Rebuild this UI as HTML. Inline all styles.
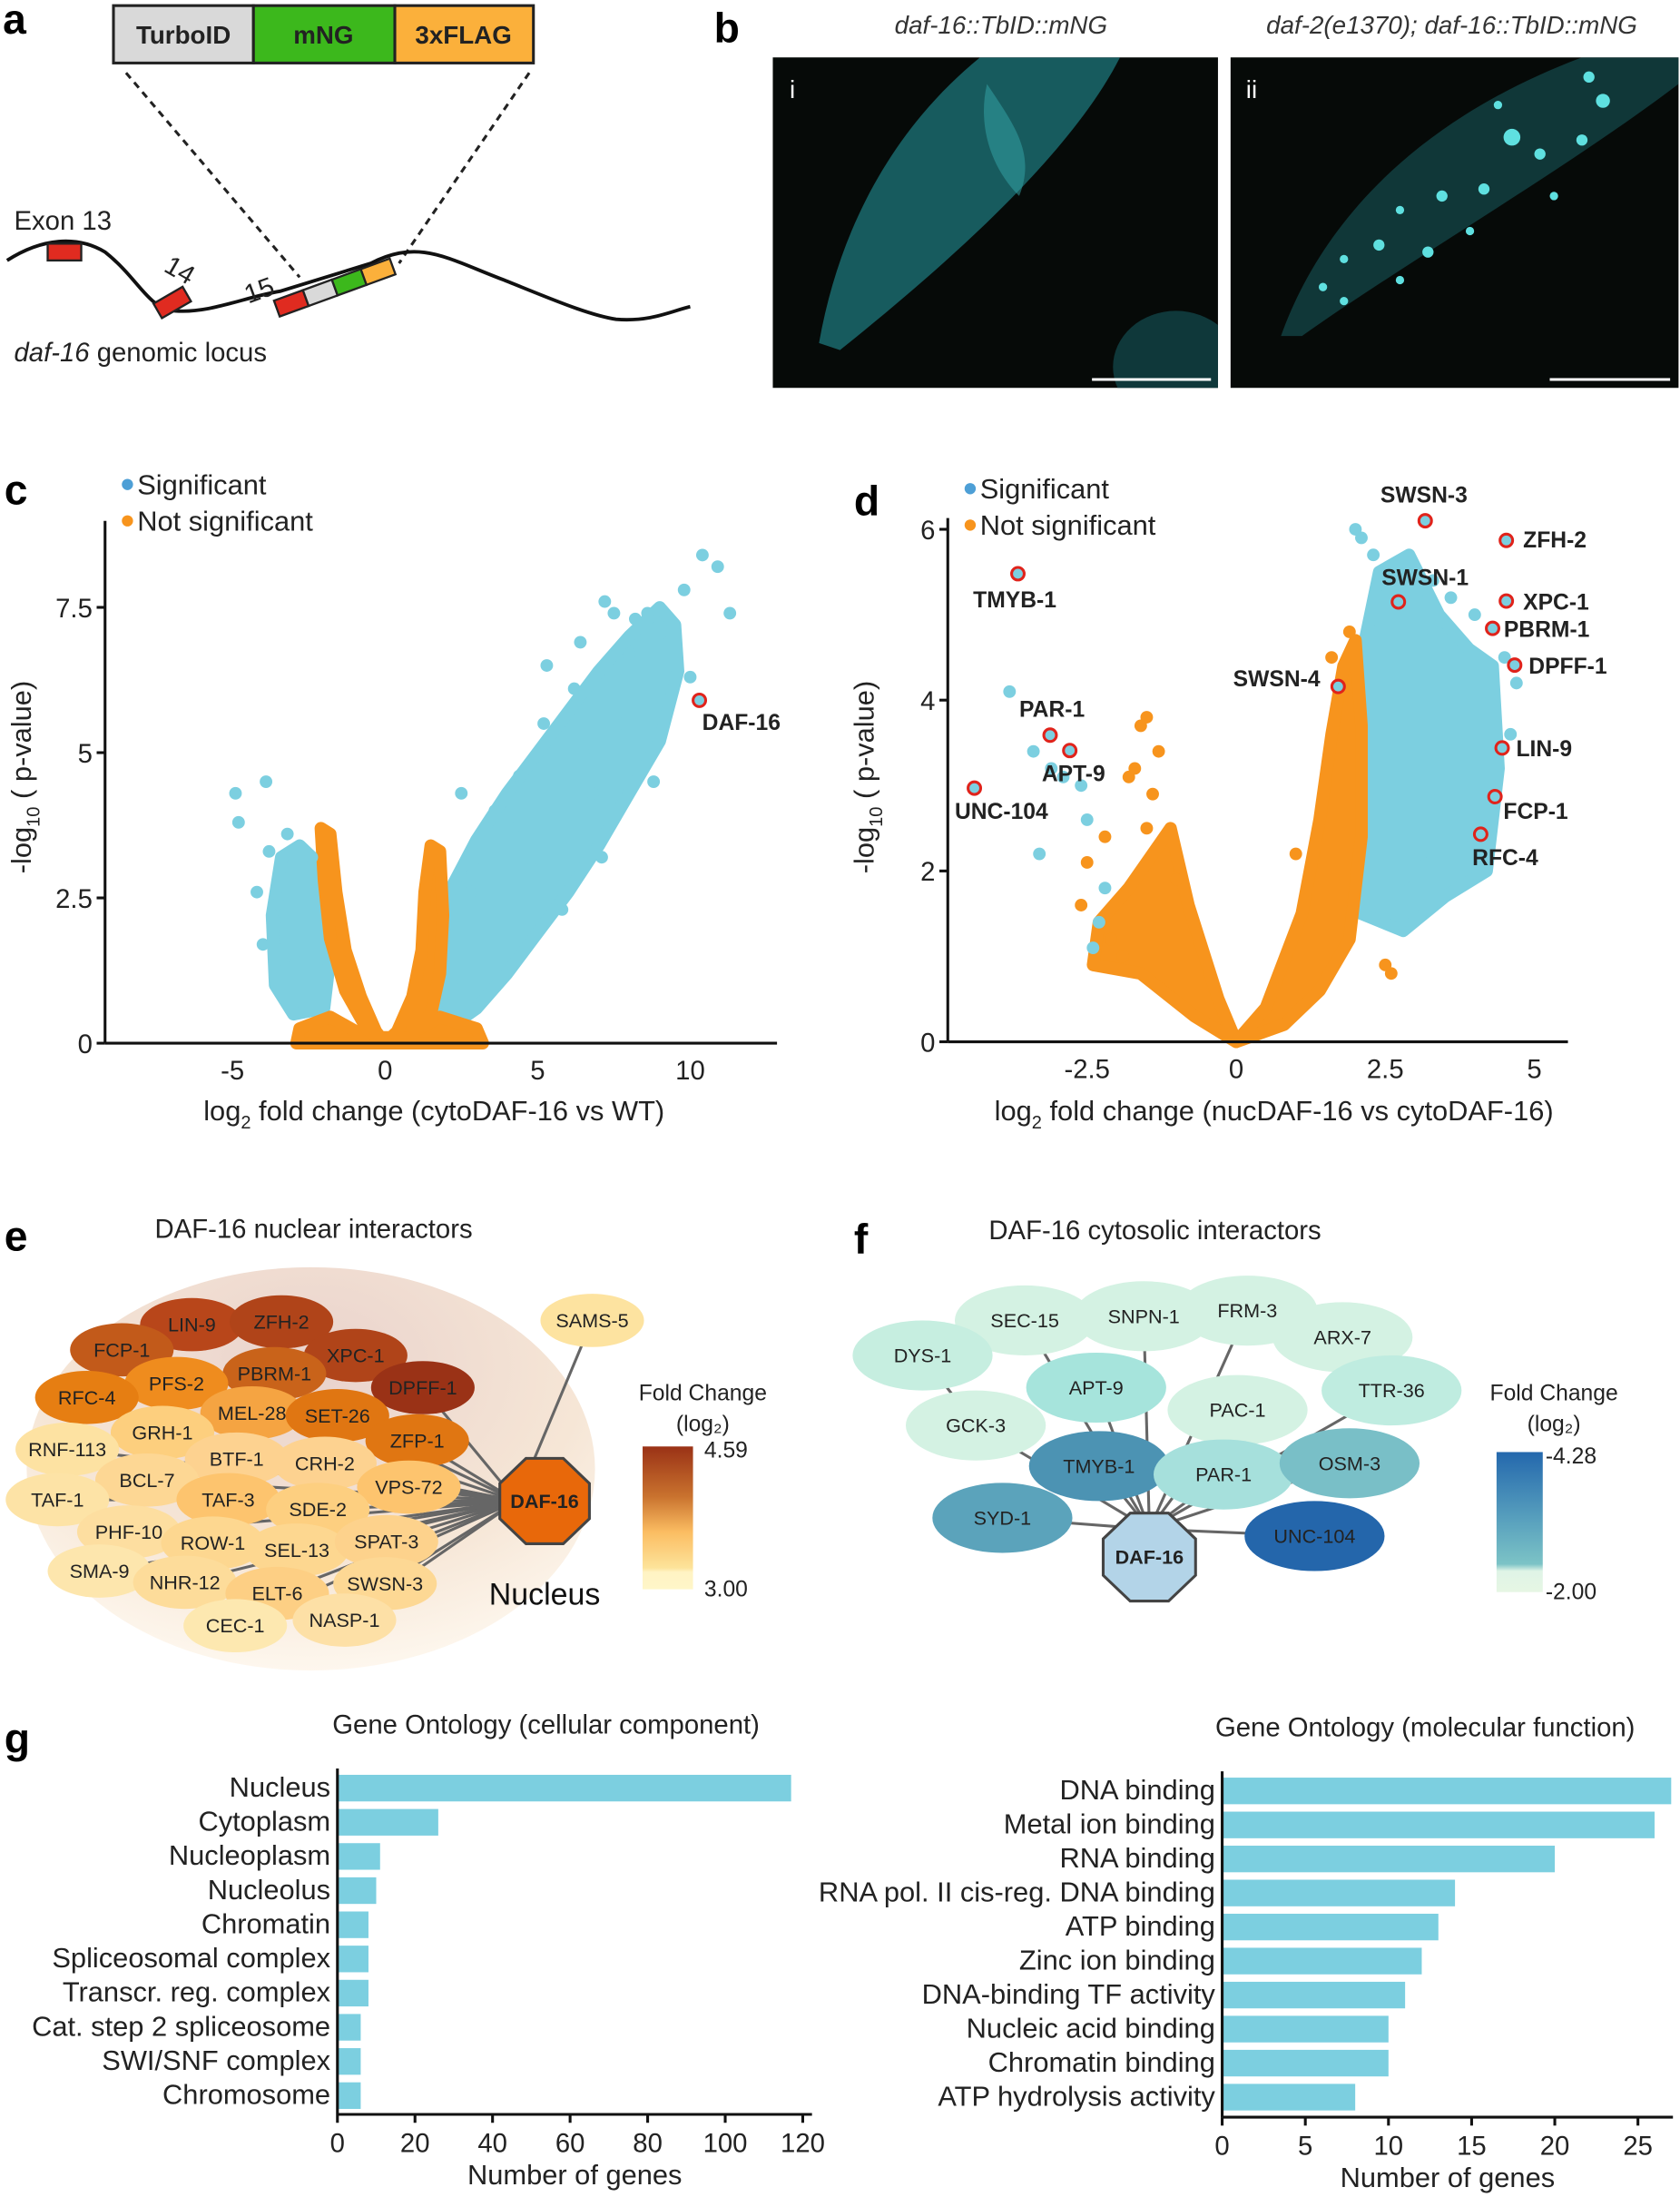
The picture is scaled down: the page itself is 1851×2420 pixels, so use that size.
<!DOCTYPE html>
<html><head><meta charset="utf-8">
<style>
html,body{margin:0;padding:0;background:#fff;}
svg{display:block;font-family:"Liberation Sans",Arial,sans-serif;}
.nd{font-size:14px;fill:#222;text-anchor:middle;dominant-baseline:central;}
</style></head>
<body>
<svg id="fig" width="1851" height="2420" viewBox="0 0 1200 1569" xmlns="http://www.w3.org/2000/svg">
<defs>
<radialGradient id="nucbg" cx="0.5" cy="0.25" r="0.8"><stop offset="0" stop-color="#e9d2cc"/><stop offset="0.6" stop-color="#f6e6d6"/><stop offset="1" stop-color="#fffaf2"/></radialGradient>
<linearGradient id="orbar" x1="0" y1="0" x2="0" y2="1"><stop offset="0" stop-color="#9a3216"/><stop offset="0.35" stop-color="#c9722e"/><stop offset="0.6" stop-color="#fbbd62"/><stop offset="0.85" stop-color="#fde39a"/><stop offset="0.88" stop-color="#fff3c4"/><stop offset="1" stop-color="#fff6c8"/></linearGradient>
<linearGradient id="blbar" x1="0" y1="0" x2="0" y2="1"><stop offset="0" stop-color="#2468ad"/><stop offset="0.5" stop-color="#5aa2be"/><stop offset="0.8" stop-color="#7cc3c6"/><stop offset="0.85" stop-color="#dff4e6"/><stop offset="1" stop-color="#e6f6e4"/></linearGradient>
<clipPath id="clip1"><rect x="552" y="41" width="318" height="236"/></clipPath>
<clipPath id="clip2"><rect x="879" y="41" width="320" height="236"/></clipPath>
</defs>

<!-- Panel a -->
<g>
<text x="2" y="24" font-size="30" font-weight="bold">a</text>
<rect x="81" y="4" width="100" height="41" fill="#d9d9d9" stroke="#222" stroke-width="2"/>
<rect x="181" y="4" width="101" height="41" fill="#3cb81c" stroke="#222" stroke-width="2"/>
<rect x="282" y="4" width="99" height="41" fill="#fbb03b" stroke="#222" stroke-width="2"/>
<text x="131" y="31" font-size="18" font-weight="bold" text-anchor="middle" fill="#222">TurboID</text>
<text x="231" y="31" font-size="18" font-weight="bold" text-anchor="middle" fill="#222">mNG</text>
<text x="331" y="31" font-size="18" font-weight="bold" text-anchor="middle" fill="#222">3xFLAG</text>
<line x1="90" y1="52" x2="214" y2="198" stroke="#222" stroke-width="2" stroke-dasharray="5,4"/>
<line x1="378" y1="52" x2="285" y2="188" stroke="#222" stroke-width="2" stroke-dasharray="5,4"/>
<path d="M5,186 C30,170 55,168 75,180 C100,200 105,220 125,222 C150,224 175,212 200,208 L265,188 C300,170 320,185 360,200 C390,212 420,225 440,228 C465,230 480,222 493,219" fill="none" stroke="#111" stroke-width="2.5"/>
<rect x="34" y="174" width="24" height="12" fill="#e02b20" stroke="#222" stroke-width="1.5"/>
<rect x="111" y="210" width="24" height="12" fill="#e02b20" stroke="#222" stroke-width="1.5" transform="rotate(-30 123 216)"/>
<g transform="rotate(-20 240 205)">
<rect x="195" y="199" width="22" height="12" fill="#e02b20" stroke="#222" stroke-width="1.5"/>
<rect x="217" y="199" width="22" height="12" fill="#d9d9d9" stroke="#222" stroke-width="1.5"/>
<rect x="239" y="199" width="22" height="12" fill="#3cb81c" stroke="#222" stroke-width="1.5"/>
<rect x="261" y="199" width="22" height="12" fill="#fbb03b" stroke="#222" stroke-width="1.5"/>
</g>
<text x="10" y="164" font-size="19" fill="#222">Exon 13</text>
<text x="118" y="198" font-size="19" fill="#222" transform="rotate(30 126 192)">14</text>
<text x="174" y="214" font-size="19" fill="#222" transform="rotate(-20 184 206)">15</text>
<text x="10" y="258" font-size="19" fill="#222"><tspan font-style="italic">daf-16</tspan> genomic locus</text>
</g>

<!-- Panel b -->
<g>
<text x="510" y="30" font-size="30" font-weight="bold">b</text>
<text x="715" y="24" font-size="18" font-style="italic" text-anchor="middle" fill="#333">daf-16::TbID::mNG</text>
<text x="1037" y="24" font-size="18" font-style="italic" text-anchor="middle" fill="#333">daf-2(e1370); daf-16::TbID::mNG</text>
<rect x="552" y="41" width="318" height="236" fill="#060a08"/>
<g clip-path="url(#clip1)">
<path d="M585,245 C600,160 640,90 700,41 L800,41 C770,100 700,170 600,250 Z" fill="#1b6a6d" opacity="0.85"/>
<path d="M705,60 C725,90 740,110 728,140 C708,120 698,90 705,60 Z" fill="#36a7a9" opacity="0.5"/>
<ellipse cx="840" cy="262" rx="45" ry="40" fill="#124347" opacity="0.8"/>
</g>
<text x="564" y="70" font-size="18" fill="#fff">i</text>
<line x1="780" y1="271" x2="865" y2="271" stroke="#fff" stroke-width="2"/>
<rect x="879" y="41" width="320" height="236" fill="#060a08"/>
<g clip-path="url(#clip2)">
<path d="M915,240 C940,170 1000,90 1130,41 L1199,41 L1199,60 C1120,120 1000,190 930,240 Z" fill="#195d60" opacity="0.55"/>
</g>
<g fill="#5fe0e0">
<circle cx="1135" cy="55" r="4"/><circle cx="1145" cy="72" r="5"/><circle cx="1130" cy="100" r="4"/><circle cx="1080" cy="98" r="6"/><circle cx="1100" cy="110" r="4"/><circle cx="1060" cy="135" r="4"/><circle cx="1030" cy="140" r="4"/><circle cx="1050" cy="165" r="3"/><circle cx="1000" cy="150" r="3"/><circle cx="985" cy="175" r="4"/><circle cx="960" cy="185" r="3"/><circle cx="945" cy="205" r="3"/><circle cx="1020" cy="180" r="4"/><circle cx="1000" cy="200" r="3"/><circle cx="960" cy="215" r="3"/><circle cx="1070" cy="75" r="3"/><circle cx="1110" cy="140" r="3"/>
</g>
<text x="890" y="70" font-size="18" fill="#fff">ii</text>
<line x1="1107" y1="271" x2="1193" y2="271" stroke="#fff" stroke-width="2"/>
</g>

<!-- Panel c -->
<g id="pc">
<text x="3" y="360" font-size="30" font-weight="bold">c</text>
</g>
<!-- Panel d -->
<g id="pd">
<text x="610" y="368" font-size="30" font-weight="bold">d</text>
</g>

<!-- Panel e -->
<g>
<text x="3" y="893" font-size="30" font-weight="bold">e</text>
<text x="224" y="884" font-size="19" text-anchor="middle" fill="#222">DAF-16 nuclear interactors</text>
<ellipse cx="222" cy="1049" rx="203" ry="144" fill="url(#nucbg)"/>
<g id="elinks" stroke="#666" stroke-width="2"></g>
<g id="enodes"></g>
<text x="389" y="1146" font-size="22" text-anchor="middle" fill="#111">Nucleus</text>
<text x="502" y="1000" font-size="16" text-anchor="middle" fill="#222">Fold Change</text>
<text x="502" y="1022" font-size="16" text-anchor="middle" fill="#222">(log₂)</text>
<rect x="459" y="1033" width="36" height="102" fill="url(#orbar)"/>
<text x="503" y="1041" font-size="16" fill="#222">4.59</text>
<text x="503" y="1140" font-size="16" fill="#222">3.00</text>
</g>

<!-- Panel f -->
<g>
<text x="610" y="895" font-size="30" font-weight="bold">f</text>
<text x="825" y="885" font-size="19" text-anchor="middle" fill="#222">DAF-16 cytosolic interactors</text>
<g id="flinks" stroke="#666" stroke-width="2"></g>
<g id="fnodes"></g>
<text x="1110" y="1000" font-size="16" text-anchor="middle" fill="#222">Fold Change</text>
<text x="1110" y="1022" font-size="16" text-anchor="middle" fill="#222">(log₂)</text>
<rect x="1069" y="1037" width="33" height="100" fill="url(#blbar)"/>
<text x="1104" y="1045" font-size="16" fill="#222">-4.28</text>
<text x="1104" y="1142" font-size="16" fill="#222">-2.00</text>
</g>

<!-- Panel g -->
<g id="pg">
<text x="3" y="1252" font-size="30" font-weight="bold">g</text>
<text x="390" y="1238" font-size="19" text-anchor="middle" fill="#222">Gene Ontology (cellular component)</text>
<text x="1018" y="1240" font-size="19" text-anchor="middle" fill="#222">Gene Ontology (molecular function)</text>
</g>
</svg>
<script>
const NS='http://www.w3.org/2000/svg';
function mk(parent,tag,attrs){const e=document.createElementNS(NS,tag);for(const k in attrs)e.setAttribute(k,attrs[k]);parent.appendChild(e);return e;}
const CY='#7ccfe0', OR='#f7941d';

// ---------- Panel c data ----------
const cCyanRegion=[[1.7,0.3],[1.6,1.5],[2,2.5],[3,3.5],[4,4.3],[5,5],[6,5.7],[7,6.4],[8,7],[9,7.5],[9.5,7.2],[9.6,6.4],[9,5.2],[8,4.3],[7,3.4],[6,2.6],[5,1.9],[4,1.2],[3,0.6],[2.2,0.3]];
const cCyanLeft=[[-3.6,1.0],[-3.7,2.2],[-3.4,3.2],[-2.8,3.4],[-2.0,3.0],[-1.8,1.5],[-2,0.6],[-3,0.5]];
const cOrLeft=[[0,0],[-0.6,0.25],[-1.3,0.9],[-1.8,1.8],[-2.0,2.8],[-2.1,3.7],[-1.8,3.6],[-1.6,2.6],[-1.3,1.6],[-0.8,0.8],[-0.3,0.2]];
const cOrRight=[[0,0],[0.4,0.2],[0.9,0.8],[1.2,1.6],[1.3,2.6],[1.5,3.4],[1.8,3.3],[1.9,2.2],[1.8,1.2],[1.5,0.5],[0.8,0.1]];
const cOrBase=[[-2.9,0],[-2.8,0.25],[-1.8,0.45],[-0.6,0.1],[0.6,0.1],[1.8,0.45],[3,0.25],[3.2,0]];
const cCyanX=[-4.9,-4.8,-3.9,-3.8,-4.2,-3.6,-3.5,-2.9,-4.0,-3.2,-2.4,5.3,6.4,7.2,7.5,8.2,8.6,9.3,10.4,11.3,10.9,7.8,6.5,4.2,3.1,2.5,5.8,7.1,8.8,6.2,5.2,4.8,2.2,3.6,4.4,9.8,10.0,8.0,6.8,2.8];
const cCyanY=[4.3,3.8,4.5,3.3,2.6,2.1,2.4,1.4,1.7,3.6,3.2,6.5,6.9,7.6,7.4,7.3,7.4,6.9,8.4,7.4,8.2,5.5,5,3.7,3.2,4.3,2.3,3.2,4.5,6.1,5.5,3,1,4.0,4.6,7.8,6.3,6.7,4.3,2.6];
const cSigX=[10.3], cSigY=[5.9], cSigLbl=['DAF-16'];
const cXT=[-5,0,5,10], cYT=[0,2.5,5,7.5];
const cx=v=>275+v*21.8, cy=v=>745-v*41.5;

// ---------- Panel d data ----------
const dOrLeft=[[0,0],[-0.7,0.3],[-1.6,0.8],[-2.4,0.9],[-2.3,1.4],[-1.8,1.8],[-1.4,2.2],[-1.1,2.5],[-0.8,1.6],[-0.3,0.5]];
const dOrRight=[[0,0],[0.5,0.4],[1.1,1.5],[1.4,2.6],[1.6,3.6],[1.8,4.4],[2.0,4.7],[2.1,3.7],[2.1,2.4],[1.9,1.2],[1.4,0.6],[0.8,0.2]];
const dCyanRegion=[[2.1,1.5],[2.0,3.0],[2.1,4.5],[2.4,5.5],[2.9,5.7],[3.4,5.0],[3.9,4.6],[4.3,4.4],[4.4,3.2],[4.2,2.0],[3.5,1.7],[2.8,1.3]];
const dOrX=[-1.5,-1.3,-1.8,-2.2,-2.5,-1.5,-1.6,-1.7,2.5,2.6,-2.1,-1.9,-1.0,-1.4,1.0,1.6,1.9,-2.6];
const dOrY=[3.8,3.4,3.1,2.4,2.1,2.5,3.7,3.2,0.9,0.8,1.2,1.0,1.9,2.9,2.2,4.5,4.8,1.6];
const dCyX=[-3.8,-3.4,-3.1,-2.6,-3.3,-2.5,-2.3,-2.4,2.1,2.3,2.0,3.3,4.5,4.6,4.2,3.8,3.1,3.3,2.8,4.7,-2.9,-2.2,3.6,2.5,4.0];
const dCyY=[4.1,3.4,3.2,3.0,2.2,2.6,1.4,1.1,5.9,5.7,6.0,4.8,4.5,3.6,2.8,2.4,2.2,5.4,1.9,4.2,3.1,1.8,5.2,1.4,5.0];
const dSigLbl=['SWSN-3','ZFH-2','SWSN-1','XPC-1','PBRM-1','DPFF-1','SWSN-4','LIN-9','FCP-1','RFC-4','TMYB-1','PAR-1','APT-9','UNC-104'];
const dSigX=[3.17,4.53,2.72,4.53,4.3,4.67,1.71,4.46,4.34,4.1,-3.66,-3.12,-2.79,-4.39];
const dSigY=[6.1,5.87,5.15,5.16,4.84,4.41,4.16,3.44,2.87,2.43,5.48,3.59,3.41,2.97];
const dLblDX=[-32,12,-12,12,8,10,-75,10,6,-6,-32,-22,-20,-14];
const dLblDY=[-13,5,-12,6,6,6,0,6,16,22,24,-13,22,22];
const dXT=[-2.5,0,2.5,5], dYT=[0,2,4,6];
const dx=v=>883+v*42.6, dy=v=>744-v*61;

function volcano(g,fx,fy,cfg){
  const pts=(arr)=>arr.map(p=>fx(p[0]).toFixed(1)+','+fy(p[1]).toFixed(1)).join(' ');
  cfg.regions.forEach(r=>{
    const p=mk(g,'polygon',{points:pts(r.d),fill:r.c,stroke:r.c,'stroke-width':9,'stroke-linejoin':'round'});
    
    
  });
  cfg.pts.forEach(s=>{
    s.x.forEach((v,i)=>{
      const c=mk(g,'circle',{cx:fx(v),cy:fy(s.y[i]),r:4.5,fill:s.c});
      
      
    });
  });
  cfg.sig.x.forEach((v,i)=>{
    const c=mk(g,'circle',{cx:fx(v),cy:fy(cfg.sig.y[i]),r:4.5,fill:cfg.sig.fill,stroke:'#e0231b','stroke-width':2});
    
    
    const t=mk(g,'text',{x:fx(v)+cfg.sig.dx[i],y:fy(cfg.sig.y[i])+cfg.sig.dy[i],'font-size':16,'font-weight':'bold',fill:'#222'});
    t.textContent=cfg.sig.l[i];
    
    
  });
  const ax=cfg.ax;
  const xa=mk(g,'line',{x1:ax.x0,y1:ax.yb,x2:ax.x1,y2:ax.yb,stroke:'#111','stroke-width':2});
  
  
  const ya=mk(g,'line',{x1:ax.x0,y1:ax.yt,x2:ax.x0,y2:ax.yb,stroke:'#111','stroke-width':2});
  
  
  cfg.xt.forEach(v=>{
    const t=mk(g,'text',{x:fx(v),y:ax.yb+26,'font-size':19,'text-anchor':'middle',fill:'#222'});
    t.textContent=String(v);
    
    
  });
  cfg.yt.forEach(v=>{
    mk(g,'line',{x1:ax.x0-6,y1:fy(v),x2:ax.x0,y2:fy(v),stroke:'#111','stroke-width':2});
    const t=mk(g,'text',{x:ax.x0-9,y:fy(v)+7,'font-size':19,'text-anchor':'end',fill:'#222'});
    t.textContent=String(v);
    
    
  });
}
const pc=document.getElementById('pc');
volcano(pc,cx,cy,{
  regions:[{d:cCyanRegion,c:CY,n:'significant-cluster'},{d:cCyanLeft,c:CY,n:'significant-cluster-left'},{d:cOrBase,c:OR,n:'not-significant-base'},{d:cOrLeft,c:OR,n:'not-significant-left'},{d:cOrRight,c:OR,n:'not-significant-right'}],
  pts:[{x:cCyanX,y:cCyanY,c:CY,n:'significant-point'}],
  sig:{x:cSigX,y:cSigY,l:cSigLbl,dx:[2],dy:[21],fill:CY},
  ax:{x0:75,x1:555,yt:372,yb:745},xt:cXT,yt:cYT});
const pd=document.getElementById('pd');
volcano(pd,dx,dy,{
  regions:[{d:dCyanRegion,c:CY,n:'significant-cluster'},{d:dOrLeft,c:OR,n:'not-significant-left'},{d:dOrRight,c:OR,n:'not-significant-right'}],
  pts:[{x:dCyX,y:dCyY,c:CY,n:'significant-point'},{x:dOrX,y:dOrY,c:OR,n:'not-significant-point'}],
  sig:{x:dSigX,y:dSigY,l:dSigLbl,dx:dLblDX,dy:dLblDY,fill:CY},
  ax:{x0:677,x1:1120,yt:370,yb:744},xt:dXT,yt:dYT});

function txt(parent,x,y,s,attrs,name){const t=mk(parent,'text',Object.assign({x:x,y:y,'font-size':20,fill:'#222'},attrs||{}));t.innerHTML=s;return t;}
txt(pc,310,800,'log<tspan font-size="13" dy="6">2</tspan><tspan dy="-6"> fold change (cytoDAF-16 vs WT)</tspan>',{'text-anchor':'middle'},'x-axis-title');
txt(pc,0,0,'-log<tspan font-size="13" dy="6">10</tspan><tspan dy="-6"> ( p-value)</tspan>',{'text-anchor':'middle',transform:'translate(22,555) rotate(-90)'},'y-axis-title');
mk(pc,'circle',{cx:91,cy:346,r:4,fill:'#4d9fd6'});txt(pc,98,353,'Significant',{},'legend-significant');
mk(pc,'circle',{cx:91,cy:372,r:4,fill:OR});txt(pc,98,379,'Not significant',{},'legend-not-significant');
txt(pd,910,800,'log<tspan font-size="13" dy="6">2</tspan><tspan dy="-6"> fold change (nucDAF-16 vs cytoDAF-16)</tspan>',{'text-anchor':'middle'},'x-axis-title');
txt(pd,0,0,'-log<tspan font-size="13" dy="6">10</tspan><tspan dy="-6"> ( p-value)</tspan>',{'text-anchor':'middle',transform:'translate(624,555) rotate(-90)'},'y-axis-title');
mk(pd,'circle',{cx:693,cy:349,r:4,fill:'#4d9fd6'});txt(pd,700,356,'Significant',{},'legend-significant');
mk(pd,'circle',{cx:693,cy:375,r:4,fill:OR});txt(pd,700,382,'Not significant',{},'legend-not-significant');

// ---------- Networks ----------
const eNames=['LIN-9','ZFH-2','FCP-1','XPC-1','PBRM-1','PFS-2','RFC-4','DPFF-1','MEL-28','SET-26','GRH-1','ZFP-1','RNF-113','BTF-1','CRH-2','BCL-7','VPS-72','TAF-1','TAF-3','SDE-2','PHF-10','ROW-1','SEL-13','SPAT-3','SMA-9','NHR-12','ELT-6','SWSN-3','CEC-1','NASP-1','SAMS-5'];
const eX=[137,201,87,254,196,126,62,302,180,241,116,298,48,169,232,105,292,41,163,227,92,152,212,276,71,132,198,275,168,246,423];
const eY=[946,944,964,968,981,988,998,991,1009,1011,1023,1029,1035,1042,1045,1057,1062,1071,1071,1078,1094,1102,1107,1101,1122,1130,1138,1131,1161,1157,943];
const eColor=['#b8461a','#b04419','#c25a1a','#b04419','#c9631a','#ef8c1e','#e67e12','#9a3216','#f5a442','#e07612','#fdcf7e','#e07612','#fde2a2','#fdd290','#fdd290','#fdd794','#fdc46e','#fde3a6','#fdc46e','#fdcf80','#fddea0','#fdd790','#fdd790','#fdd28c','#fde6ad','#fddc9a','#fdcf84','#fdd894','#fde8b0','#fde0a6','#fde3a0'];
const hubE=[389,1072];
const el=document.getElementById('elinks'), en=document.getElementById('enodes');
eNames.forEach((n,i)=>{ if(i>=7){ const l=mk(el,'line',{x1:eX[i],y1:eY[i],x2:hubE[0]-20,y2:hubE[1]});}});
mk(el,'line',{x1:161,y1:975,x2:197,y2:990});
eNames.forEach((n,i)=>{
  const e=mk(en,'ellipse',{cx:eX[i],cy:eY[i],rx:37,ry:19,fill:eColor[i]});
  
  
  const t=mk(en,'text',{x:eX[i],y:eY[i],class:'nd'});t.textContent=n;
  
  
});
function octagon(parent,cx,cy,r,fill,label,name){
  const p=[];for(let k=0;k<8;k++){const a=Math.PI/8+k*Math.PI/4;p.push((cx+r*Math.cos(a)*1.05).toFixed(1)+','+(cy+r*Math.sin(a)).toFixed(1));}
  const o=mk(parent,'polygon',{points:p.join(' '),fill:fill,stroke:'#444','stroke-width':2});
  
  
  const t=mk(parent,'text',{x:cx,y:cy,class:'nd','font-weight':'bold','font-size':17});t.textContent=label;
}
octagon(en,hubE[0],hubE[1],33,'#e8680a','DAF-16','daf16-hub-node');

const fNames=['SEC-15','SNPN-1','FRM-3','DYS-1','ARX-7','APT-9','PAC-1','TTR-36','GCK-3','TMYB-1','PAR-1','OSM-3','SYD-1','UNC-104'];
const fX=[732,817,891,659,959,783,884,994,697,785,874,964,716,939];
const fY=[943,940,936,968,955,991,1007,993,1018,1047,1053,1045,1084,1097];
const fColor=['#d4f2e3','#d4f2e3','#d4f2e3','#c6eee0','#d4f2e3','#a6e4dc','#d4f2e3','#bfece0','#d4f2e3','#4c93b3','#a6e0dc','#79bfc7','#5ba3bb','#2466ab'];
const hubF=[821,1112];
const fl=document.getElementById('flinks'), fn=document.getElementById('fnodes');
fNames.forEach((n,i)=>{ if(i!==3 && i!==4){const l=mk(fl,'line',{x1:fX[i],y1:fY[i],x2:hubF[0],y2:hubF[1]-20});}});
mk(fl,'line',{x1:659,y1:968,x2:697,y2:1018});mk(fl,'line',{x1:959,y1:955,x2:994,y2:993});
fNames.forEach((n,i)=>{
  const e=mk(fn,'ellipse',{cx:fX[i],cy:fY[i],rx:50,ry:25,fill:fColor[i]});
  
  
  const t=mk(fn,'text',{x:fX[i],y:fY[i],class:'nd','fill':(i===13?'#fff':'#222')});t.textContent=n;
  
  
});
octagon(fn,hubF[0],hubF[1],34,'#b3d4e8','DAF-16','daf16-hub-node');

// ---------- Panel g ----------
const ccCats=['Nucleus','Cytoplasm','Nucleoplasm','Nucleolus','Chromatin','Spliceosomal complex','Transcr. reg. complex','Cat. step 2 spliceosome','SWI/SNF complex','Chromosome'];
const ccVals=[117,26,11,10,8,8,8,6,6,6];
const ccTicks=[0,20,40,60,80,100,120];
const mfCats=['DNA binding','Metal ion binding','RNA binding','RNA pol. II cis-reg. DNA binding','ATP binding','Zinc ion binding','DNA-binding TF activity','Nucleic acid binding','Chromatin binding','ATP hydrolysis activity'];
const mfVals=[27,26,20,14,13,12,11,10,10,8];
const mfTicks=[0,5,10,15,20,25];
const pg=document.getElementById('pg');
function bars(cats,vals,ticks,x0,scale,yTop,step,axisY,xmax){
  const sx=v=>x0+v*scale;
  cats.forEach((c,i)=>{
    const yc=yTop+i*step;
    const r=mk(pg,'rect',{x:x0,y:yc-9.5,width:sx(vals[i])-x0,height:19,fill:CY});
    
    
    const t=mk(pg,'text',{x:x0-5,y:yc+6,'font-size':20,'text-anchor':'end',fill:'#222'});t.textContent=c;
    
    
  });
  const ya=mk(pg,'line',{x1:x0,y1:yTop-14,x2:x0,y2:axisY,stroke:'#111','stroke-width':2});
  
  
  const xa=mk(pg,'line',{x1:x0,y1:axisY,x2:xmax,y2:axisY,stroke:'#111','stroke-width':2});
  
  
  ticks.forEach(v=>{
    mk(pg,'line',{x1:sx(v),y1:axisY,x2:sx(v),y2:axisY+6,stroke:'#111','stroke-width':2});
    const t=mk(pg,'text',{x:sx(v),y:axisY+27,'font-size':19,'text-anchor':'middle',fill:'#222'});t.textContent=String(v);
    
    
  });
  const t=mk(pg,'text',{x:(x0+xmax)/2,y:axisY+50,'font-size':20,'text-anchor':'middle',fill:'#222'});t.textContent='Number of genes';
  
  
}
bars(ccCats,ccVals,ccTicks,241,2.77,1277,24.4,1510,580);
bars(mfCats,mfVals,mfTicks,873,11.88,1279,24.3,1512,1195);
</script>
</body></html>
